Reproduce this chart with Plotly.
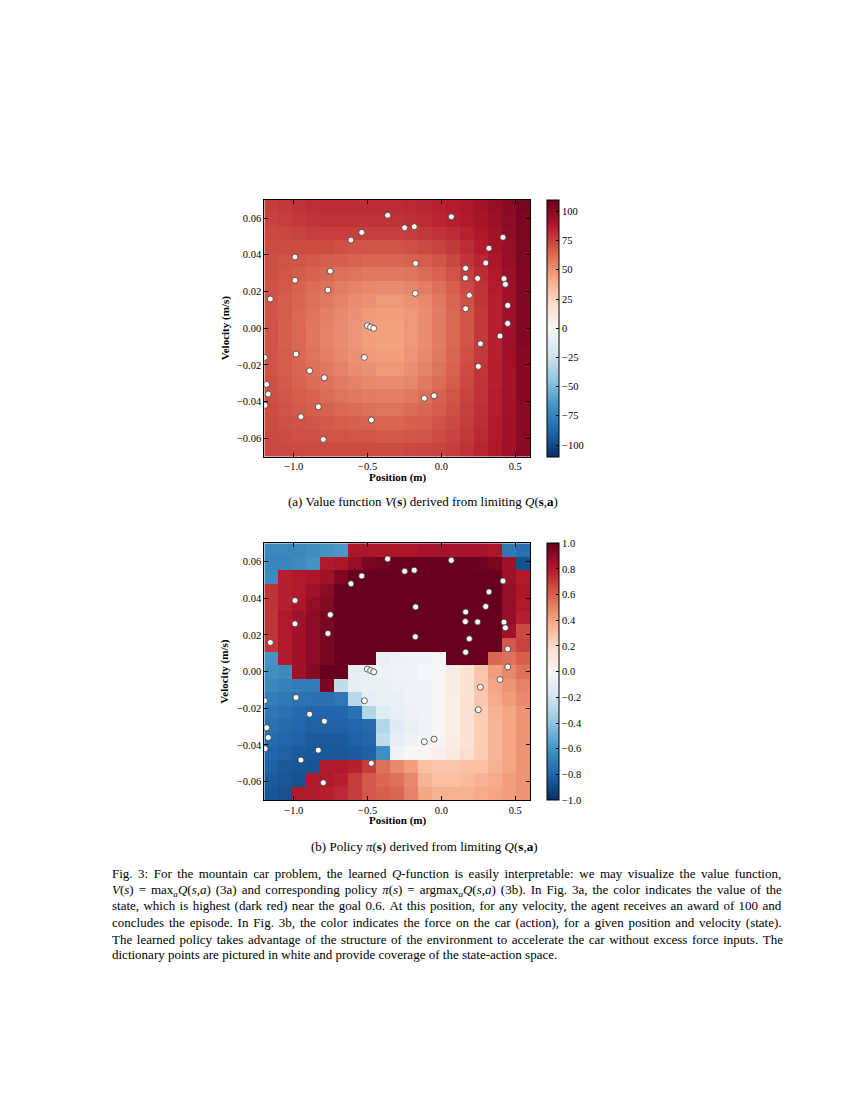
import plotly.graph_objects as go

# ---------------- data ----------------
n_pos = 19
n_vel = 19
pos_range = [-1.2, 0.6]
vel_range = [-0.07, 0.07]

# value function V(s), rows from top (v=+0.07) to bottom (v=-0.07), cols from x=-1.2 to 0.6
value_rows = [
    [77, 78, 80, 81, 82, 82, 82, 82, 82, 82, 83, 84, 85, 87, 89, 92, 96, 100, 105],
    [75, 76, 78, 79, 80, 80, 80, 80, 80, 80, 81, 82, 84, 86, 88, 91, 95, 99, 104],
    [73, 74, 75, 76, 76, 76, 76, 76, 76, 76, 77, 78, 80, 82, 85, 89, 93, 98, 104],
    [72, 72, 72, 72, 72, 71, 70, 70, 70, 70, 71, 73, 75, 78, 82, 87, 92, 97, 103],
    [71, 70, 69, 68, 67, 66, 65, 64, 64, 64, 65, 67, 70, 74, 79, 84, 90, 96, 103],
    [71, 69, 67, 65, 63, 61, 60, 58, 58, 58, 59, 62, 65, 70, 76, 82, 88, 95, 102],
    [70, 68, 65, 62, 60, 57, 55, 53, 52, 52, 54, 57, 61, 66, 73, 80, 87, 94, 102],
    [70, 67, 64, 61, 58, 55, 52, 50, 48, 48, 50, 53, 58, 64, 71, 79, 86, 94, 102],
    [70, 67, 63, 60, 56, 53, 50, 47, 46, 46, 48, 52, 57, 63, 70, 78, 86, 94, 102],
    [70, 66, 63, 59, 55, 52, 49, 46, 45, 45, 48, 52, 57, 63, 70, 78, 86, 94, 102],
    [70, 66, 63, 59, 55, 52, 49, 46, 45, 45, 48, 52, 57, 63, 70, 78, 86, 94, 102],
    [70, 67, 63, 60, 56, 53, 50, 47, 46, 46, 49, 53, 58, 64, 71, 78, 86, 94, 101],
    [70, 67, 64, 61, 58, 55, 52, 50, 48, 48, 51, 55, 60, 65, 72, 79, 86, 93, 101],
    [71, 68, 65, 62, 60, 57, 55, 53, 52, 52, 54, 58, 62, 67, 73, 80, 86, 93, 101],
    [71, 69, 67, 65, 62, 60, 58, 57, 56, 56, 58, 61, 65, 69, 75, 80, 87, 93, 101],
    [72, 70, 68, 67, 65, 63, 62, 61, 60, 60, 62, 64, 67, 71, 76, 81, 87, 93, 100],
    [72, 71, 70, 69, 68, 67, 66, 65, 64, 64, 66, 67, 70, 73, 77, 82, 88, 94, 100],
    [73, 72, 71, 71, 70, 70, 69, 69, 68, 68, 69, 70, 72, 75, 78, 83, 88, 94, 100],
    [73, 73, 73, 72, 72, 72, 72, 72, 72, 72, 73, 74, 75, 77, 80, 84, 89, 94, 100],
]

# policy pi(s), same layout
policy_rows = [
    [-0.65, -0.65, -0.65, -0.63, -0.60, -0.58, 0.82, 0.82, 0.82, 0.82, 0.82, 0.83, 0.83, 0.83, 0.83, 0.83, 0.82, -0.72, -0.76],
    [-0.66, -0.66, -0.64, -0.60, 0.80, 0.82, 0.88, 0.95, 0.97, 1.0, 1.0, 1.0, 1.0, 1.0, 1.0, 0.98, 0.95, 0.85, -0.88],
    [-0.64, 0.78, 0.80, 0.82, 0.85, 0.93, 1.0, 1.0, 1.0, 1.0, 1.0, 1.0, 1.0, 1.0, 1.0, 1.0, 1.0, 0.85, 0.80],
    [0.72, 0.78, 0.80, 0.85, 0.90, 1.0, 1.0, 1.0, 1.0, 1.0, 1.0, 1.0, 1.0, 1.0, 1.0, 1.0, 1.0, 0.88, 0.82],
    [0.72, 0.78, 0.82, 0.88, 0.92, 1.0, 1.0, 1.0, 1.0, 1.0, 1.0, 1.0, 1.0, 1.0, 1.0, 1.0, 1.0, 0.88, 0.80],
    [0.72, 0.80, 0.85, 0.90, 0.95, 1.0, 1.0, 1.0, 1.0, 1.0, 1.0, 1.0, 1.0, 1.0, 1.0, 1.0, 1.0, 0.88, 0.78],
    [0.72, 0.80, 0.85, 0.90, 0.95, 1.0, 1.0, 1.0, 1.0, 1.0, 1.0, 1.0, 1.0, 1.0, 1.0, 1.0, 1.0, 0.85, 0.66],
    [0.72, 0.80, 0.85, 0.90, 0.95, 1.0, 1.0, 1.0, 1.0, 1.0, 1.0, 1.0, 1.0, 1.0, 1.0, 1.0, 1.0, 0.62, 0.68],
    [-0.60, 0.80, 0.85, 0.90, 0.95, 1.0, 1.0, 1.0, -0.08, -0.06, -0.04, -0.03, -0.02, 1.0, 1.0, 1.0, 0.58, 0.55, 0.60],
    [-0.62, -0.64, 0.85, 0.92, 1.0, 1.0, -0.10, -0.08, -0.06, -0.05, -0.04, -0.02, 0.0, 0.08, 0.15, 0.28, 0.42, 0.48, 0.55],
    [-0.65, -0.68, -0.70, -0.70, 0.95, -0.25, -0.10, -0.08, -0.07, -0.06, -0.05, -0.03, 0.0, 0.08, 0.15, 0.28, 0.40, 0.45, 0.50],
    [-0.70, -0.72, -0.74, -0.75, -0.75, -0.72, -0.28, -0.10, -0.08, -0.07, -0.05, -0.03, 0.0, 0.07, 0.15, 0.27, 0.38, 0.43, 0.48],
    [-0.72, -0.75, -0.78, -0.80, -0.80, -0.80, -0.75, -0.30, -0.12, -0.09, -0.06, -0.03, 0.0, 0.07, 0.15, 0.25, 0.35, 0.40, 0.45],
    [-0.75, -0.78, -0.80, -0.82, -0.82, -0.82, -0.80, -0.78, -0.30, -0.12, -0.08, -0.04, 0.0, 0.07, 0.15, 0.25, 0.33, 0.40, 0.45],
    [-0.78, -0.80, -0.82, -0.84, -0.84, -0.84, -0.82, -0.80, -0.25, -0.10, -0.06, -0.03, 0.02, 0.08, 0.15, 0.25, 0.33, 0.40, 0.45],
    [-0.80, -0.82, -0.84, -0.85, -0.85, -0.85, -0.84, -0.82, -0.62, -0.04, 0.0, 0.02, 0.05, 0.10, 0.18, 0.25, 0.33, 0.40, 0.45],
    [-0.82, -0.85, -0.86, -0.87, 0.80, 0.80, 0.78, 0.70, 0.55, 0.48, 0.42, 0.30, 0.28, 0.28, 0.30, 0.30, 0.35, 0.40, 0.45],
    [-0.84, -0.86, -0.88, 0.80, 0.80, 0.78, 0.70, 0.62, 0.58, 0.55, 0.48, 0.35, 0.30, 0.30, 0.32, 0.35, 0.38, 0.42, 0.45],
    [-0.86, -0.88, 0.80, 0.80, 0.78, 0.75, 0.70, 0.62, 0.60, 0.58, 0.50, 0.40, 0.35, 0.35, 0.35, 0.38, 0.40, 0.42, 0.45],
]

# dictionary points (position, velocity)
dict_pos = [-0.364, 0.067, -0.249, -0.184, -0.540, -0.613, 0.417, 0.322, -0.992, 0.300,
            -0.175, 0.164, -0.753, 0.162, 0.245, 0.424, -0.992, 0.433, -0.769, -0.177,
            0.189, -1.159, 0.449, 0.164, 0.449, -0.502, -0.480, -0.459, 0.397, 0.264,
            -1.198, -0.985, -0.522, 0.250, -0.893, -0.793, -1.184, -1.173, -0.050, -0.116,
            -1.195, -0.834, -0.952, -0.475, -0.800]
dict_vel = [0.0615, 0.0607, 0.0547, 0.0553, 0.0522, 0.0480, 0.0495, 0.0435, 0.0388, 0.0355,
            0.0353, 0.0326, 0.0311, 0.0273, 0.0271, 0.0270, 0.0261, 0.0239, 0.0208, 0.0190,
            0.0179, 0.0159, 0.0124, 0.0106, 0.0026, 0.0014, 0.0006, -0.0001, -0.0043, -0.0085,
            -0.0159, -0.0141, -0.0159, -0.0208, -0.0232, -0.0270, -0.0306, -0.0359, -0.0368, -0.0382,
            -0.0420, -0.0428, -0.0482, -0.0500, -0.0606]

x_tickvals = [-1.0, -0.5, 0.0, 0.5]
x_ticktext = ["\u22121.0", "\u22120.5", "0.0", "0.5"]
y_tickvals = [-0.06, -0.04, -0.02, 0.0, 0.02, 0.04, 0.06]
y_ticktext = ["\u22120.06", "\u22120.04", "\u22120.02", "0.00", "0.02", "0.04", "0.06"]
cb1_vals = [-100, -75, -50, -25, 0, 25, 50, 75, 100]
cb1_text = ["\u2212100", "\u221275", "\u221250", "\u221225", "0", "25", "50", "75", "100"]
cb2_vals = [-1.0, -0.8, -0.6, -0.4, -0.2, 0.0, 0.2, 0.4, 0.6, 0.8, 1.0]
cb2_text = ["\u22121.0", "\u22120.8", "\u22120.6", "\u22120.4", "\u22120.2", "0.0", "0.2", "0.4", "0.6", "0.8", "1.0"]

caption_a = "(a) Value function <i>V</i>(<b>s</b>) derived from limiting <i>Q</i>(<b>s</b>,<b>a</b>)"
caption_b = "(b) Policy <i>π</i>(<b>s</b>) derived from limiting <i>Q</i>(<b>s</b>,<b>a</b>)"
paragraph = [
    "Fig. 3: For the mountain car problem, the learned <i>Q</i>-function is easily interpretable: we may visualize the value function,",
    "<i>V</i>(<i>s</i>) = max<sub><i>a</i></sub><i>Q</i>(<i>s</i>,<i>a</i>) (3a) and corresponding policy <i>π</i>(<i>s</i>) = argmax<sub><i>a</i></sub><i>Q</i>(<i>s</i>,<i>a</i>) (3b). In Fig. 3a, the color indicates the value of the",
    "state, which is highest (dark red) near the goal 0.6. At this position, for any velocity, the agent receives an award of 100 and",
    "concludes the episode. In Fig. 3b, the color indicates the force on the car (action), for a given position and velocity (state).",
    "The learned policy takes advantage of the structure of the environment to accelerate the car without excess force inputs. The",
    "dictionary points are pictured in white and provide coverage of the state-action space.",
]
# inter-word space size (px) used to justify each line of the caption
paragraph_space = [22.0, 19.8, 17.5, 19.6, 18.2, 13.0]

# ---------------- styling ----------------
OFF = 8                      # browser body margin
W, H = 850 - 2 * OFF, 1100 - 2 * OFF
rdbu_r = ['#053061', '#2166ac', '#4393c3', '#92c5de', '#d1e5f0', '#f7f7f7',
          '#fddbc7', '#f4a582', '#d6604d', '#b2182b', '#67001f']
cscale = [[i / 10, c] for i, c in enumerate(rdbu_r)]
SERIF = "Liberation Serif"

def fx(px):
    return (px - OFF) / W

def fy(py):
    return 1 - (py - OFF) / H

px_left, px_right = 264.3, 530.0
top_box = (199.7, 456.7)
bot_box = (543.3, 800.0)

def ydom(box):
    return [fy(box[1]), fy(box[0])]

xdom = [fx(px_left), fx(px_right)]
dx = (pos_range[1] - pos_range[0]) / n_pos
dy = (vel_range[1] - vel_range[0]) / n_vel

def cbar(box, vals, text):
    return dict(
        x=fx(547), xanchor="left", thickness=12, thicknessmode="pixels",
        len=(box[1] - box[0]) / H, lenmode="fraction",
        y=fy((box[0] + box[1]) / 2), yanchor="middle",
        outlinewidth=1, outlinecolor="black",
        tickvals=vals, ticktext=text, ticks="inside", ticklen=3, tickcolor="black",
        tickfont=dict(family=SERIF, size=10.5, color="black"), xpad=0, ypad=0,
    )

fig = go.Figure()
fig.add_trace(go.Heatmap(
    z=value_rows[::-1], x0=pos_range[0] + dx / 2, dx=dx, y0=vel_range[0] + dy / 2, dy=dy,
    colorscale=cscale, zmin=-110, zmax=110, xaxis="x", yaxis="y",
    colorbar=cbar(top_box, cb1_vals, cb1_text), hoverinfo="skip"))
fig.add_trace(go.Heatmap(
    z=policy_rows[::-1], x0=pos_range[0] + dx / 2, dx=dx, y0=vel_range[0] + dy / 2, dy=dy,
    colorscale=cscale, zmin=-1, zmax=1, xaxis="x2", yaxis="y2",
    colorbar=cbar(bot_box, cb2_vals, cb2_text), hoverinfo="skip"))

marker = dict(size=6, color="white", line=dict(color="#3a3a3a", width=0.8))
for xa, ya in (("x", "y"), ("x2", "y2")):
    fig.add_trace(go.Scatter(x=dict_pos, y=dict_vel, mode="markers", marker=marker,
                             xaxis=xa, yaxis=ya, showlegend=False, hoverinfo="skip"))

axis_common = dict(showline=True, linecolor="black", linewidth=1, mirror="ticks",
                   ticks="inside", ticklen=4, tickcolor="black", showgrid=False, zeroline=False,
                   tickfont=dict(family=SERIF, size=10.5, color="black"))
fig.update_layout(
    width=W, height=H, margin=dict(l=0, r=0, t=0, b=0),
    paper_bgcolor="white", plot_bgcolor="white", showlegend=False,
    xaxis=dict(domain=xdom, range=pos_range, tickvals=x_tickvals, ticktext=x_ticktext,
               anchor="y", **axis_common),
    yaxis=dict(domain=ydom(top_box), range=vel_range, tickvals=y_tickvals, ticktext=y_ticktext,
               anchor="x", **axis_common),
    xaxis2=dict(domain=xdom, range=pos_range, tickvals=x_tickvals, ticktext=x_ticktext,
                anchor="y2", **axis_common),
    yaxis2=dict(domain=ydom(bot_box), range=vel_range, tickvals=y_tickvals, ticktext=y_ticktext,
                anchor="x2", **axis_common),
)

anns = []
label_font = dict(family=SERIF, size=11, color="black")
for box in (top_box, bot_box):
    anns.append(dict(text="<b>Position (m)</b>", x=fx((px_left + px_right) / 2), y=fy(box[1] + 20.5),
                     xref="paper", yref="paper", showarrow=False, font=label_font,
                     xanchor="center", yanchor="middle"))
    anns.append(dict(text="<b>Velocity (m/s)</b>", x=fx(225), y=fy((box[0] + box[1]) / 2),
                     xref="paper", yref="paper", showarrow=False, font=label_font, textangle=-90,
                     xanchor="center", yanchor="middle"))
cap_font = dict(family=SERIF, size=13, color="black")
anns.append(dict(text=caption_a, x=fx(423), y=fy(501.5), xref="paper", yref="paper",
                 showarrow=False, font=cap_font, xanchor="center", yanchor="middle"))
anns.append(dict(text=caption_b, x=fx(424), y=fy(846.5), xref="paper", yref="paper",
                 showarrow=False, font=cap_font, xanchor="center", yanchor="middle"))
for i, line in enumerate(paragraph):
    sp = '<span style="font-size:%.1fpx"> </span>' % paragraph_space[i]
    text = sp.join(line.split(" "))
    anns.append(dict(text=text, x=fx(110), y=fy(870.5 + i * 16.8), xref="paper", yref="paper",
                     showarrow=False, font=dict(family=SERIF, size=13, color="black"),
                     xanchor="left", yanchor="middle", align="left"))
fig.update_layout(annotations=anns)

fig.write_html("out.html")
